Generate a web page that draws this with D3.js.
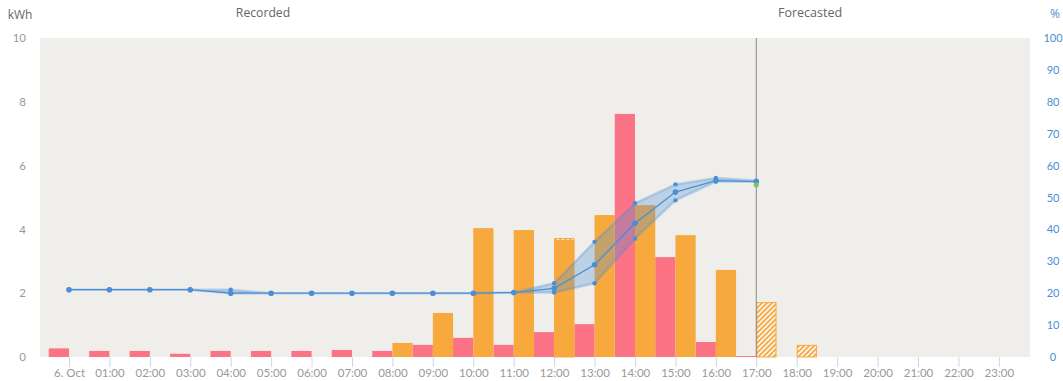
<!DOCTYPE html>
<html><head><meta charset="utf-8">
<script src="https://cdn.jsdelivr.net/npm/d3@7"></script>
<style>
html,body{margin:0;padding:0;background:#fff;}
svg{display:block;font-family:"Open Sans",sans-serif;}
</style></head>
<body><svg id="c" width="1063" height="381"></svg>
<script>
// ---- data ----
const hours = d3.range(0, 24);
const tickLabels = hours.map(h => h === 0 ? "6. Oct" : String(h).padStart(2, "0") + ":00");
const consumption = [0.27,0.19,0.19,0.10,0.19,0.19,0.19,0.22,0.19,0.38,0.60,0.38,0.78,1.03,7.62,3.13,0.47,0.03];
const productionHours = [8,9,10,11,12,13,14,15,16];
const production = [0.44,1.38,4.04,3.98,3.67,4.45,4.76,3.82,2.73];
const forecastHours = [12,17,18];
const forecast = [3.73,1.72,0.38];
const socHours = d3.range(0, 18);
const soc = [21.1,21.1,21.1,21.1,20.0,20.0,20.0,20.0,20.0,20.0,20.0,20.2,21.5,28.9,41.9,51.7,55.3,55.0];
const socUpper = [21.1,21.1,21.1,21.1,21.1,20.0,20.0,20.0,20.0,20.0,20.0,20.2,23.1,36.1,48.2,54.1,56.1,55.3];
const socLower = [21.1,21.1,21.1,21.1,20.0,20.0,20.0,20.0,20.0,20.0,20.0,20.2,20.2,23.1,37.1,49.1,55.0,55.0];
const nowHour = 17;
const socNow = 54.0;
const kwhTicks = [0,2,4,6,8,10];
const pctTicks = d3.range(0, 101, 10);

// ---- layout ----
const svg = d3.select("#c");
const pL = 40, pR = 1030, pT = 38, pB = 357;
const x = d3.scaleLinear().domain([-0.717, 23.77]).range([pL, pR]);
const y = d3.scaleLinear().domain([0, 10]).range([pB, pT]);
const y2 = d3.scaleLinear().domain([0, 100]).range([pB, pT]);

const red = "#fb7385", orange = "#f7a93e", blue = "#4a8fd6";

// pattern
const defs = svg.append("defs");
const pat = defs.append("pattern").attr("id", "hatch").attr("patternUnits", "userSpaceOnUse")
  .attr("width", 5).attr("height", 5);
pat.append("rect").attr("width", 5).attr("height", 5).attr("fill", "#fbf7ef");
pat.append("path").attr("d", "M0 5 L5 0 M-1 1 L1 -1 M4 6 L6 4")
  .attr("stroke", orange).attr("stroke-width", 1.8);

// plot background
svg.append("rect").attr("x", pL).attr("y", pT).attr("width", pR - pL).attr("height", pB - pT)
  .attr("fill", "#efeeea");

// titles
svg.append("text").attr("x", 263).attr("y", 17).attr("text-anchor", "middle")
  .attr("fill", "#666").attr("font-size", 12.2).text("Recorded");
svg.append("text").attr("x", 810).attr("y", 17).attr("text-anchor", "middle")
  .attr("fill", "#666").attr("font-size", 12.5).text("Forecasted");
svg.append("text").attr("x", 20).attr("y", 19).attr("text-anchor", "middle")
  .attr("fill", "#666").attr("font-size", 12).text("kWh");
svg.append("text").attr("x", 1055).attr("y", 18).attr("text-anchor", "middle")
  .attr("fill", blue).attr("font-size", 12).text("%");

// x axis
const xAxis = d3.axisBottom(x).tickValues(hours).tickSize(10).tickPadding(2)
  .tickFormat((d, i) => tickLabels[i]);
const gx = svg.append("g").attr("transform", `translate(0,${pB})`).call(xAxis);
gx.select(".domain").remove();
gx.selectAll(".tick line").attr("stroke", "#ccd6eb");
gx.selectAll(".tick text").attr("fill", "#999").attr("font-size", 11.5)
  .attr("font-family", "Lato, 'Open Sans', sans-serif");

// left y axis
const gy = svg.append("g").attr("transform", `translate(26,0)`)
  .call(d3.axisLeft(y).tickValues(kwhTicks).tickSize(0).tickPadding(0));
gy.select(".domain").remove();
gy.selectAll(".tick text").attr("fill", "#999").attr("font-size", 11.5)
  .attr("font-family", "Lato, 'Open Sans', sans-serif");

// right y axis
const gy2 = svg.append("g").attr("transform", `translate(1053,0)`)
  .call(d3.axisRight(y2).tickValues(pctTicks).tickSize(0).tickPadding(0));
gy2.select(".domain").remove();
gy2.selectAll(".tick text").attr("fill", blue).attr("font-size", 11).attr("text-anchor", "middle")
  .attr("font-family", "Lato, 'Open Sans', sans-serif");

// bars
const gb = svg.append("g");
gb.selectAll("rect.cons").data(consumption).join("rect").attr("class", "cons")
  .attr("x", (d, i) => x(i - 0.5)).attr("width", (d, i) => x(i) - x(i - 0.5))
  .attr("y", d => y(d)).attr("height", d => y(0) - y(d)).attr("fill", red);
gb.selectAll("rect.fc").data(forecast).join("rect").attr("class", "fc")
  .attr("x", (d, i) => x(forecastHours[i]) + 0.5).attr("width", (d, i) => x(forecastHours[i] + 0.5) - x(forecastHours[i]) - 1)
  .attr("y", d => y(d) + 0.5).attr("height", d => y(0) - y(d) - 0.5)
  .attr("fill", "url(#hatch)").attr("stroke", orange).attr("stroke-width", 1);
gb.selectAll("rect.prod").data(production).join("rect").attr("class", "prod")
  .attr("x", (d, i) => x(productionHours[i])).attr("width", (d, i) => x(productionHours[i] + 0.5) - x(productionHours[i]))
  .attr("y", d => y(d)).attr("height", d => y(0) - y(d)).attr("fill", orange);

// now line
svg.append("line").attr("x1", x(nowHour)).attr("x2", x(nowHour)).attr("y1", pT).attr("y2", pB)
  .attr("stroke", "#888").attr("stroke-width", 1);

// SOC band
const band = d3.area().x((d, i) => x(socHours[i])).y0((d, i) => y2(socLower[i])).y1((d, i) => y2(socUpper[i]));
svg.append("path").datum(soc).attr("d", band).attr("fill", "rgba(74,143,214,0.3)")
  .attr("stroke", "rgba(74,143,214,0.3)").attr("stroke-width", 2.5);
const line = d3.line().x((d, i) => x(socHours[i])).y(d => y2(d));
svg.append("path").datum(soc).attr("d", line).attr("fill", "none").attr("stroke", blue).attr("stroke-width", 1.3);
const gd = svg.append("g").attr("fill", blue);
gd.selectAll("circle.u").data(socUpper).join("circle").attr("class", "u")
  .attr("cx", (d, i) => x(socHours[i])).attr("cy", d => y2(d)).attr("r", 2.2);
gd.selectAll("circle.l").data(socLower).join("circle").attr("class", "l")
  .attr("cx", (d, i) => x(socHours[i])).attr("cy", d => y2(d)).attr("r", 2.2);
gd.selectAll("circle.m").data(soc).join("circle").attr("class", "m")
  .attr("cx", (d, i) => x(socHours[i])).attr("cy", d => y2(d)).attr("r", 2.8);
svg.append("circle").attr("cx", x(nowHour)).attr("cy", y2(socNow)).attr("r", 2.6).attr("fill", "#7cc35a");
</script></body></html>
